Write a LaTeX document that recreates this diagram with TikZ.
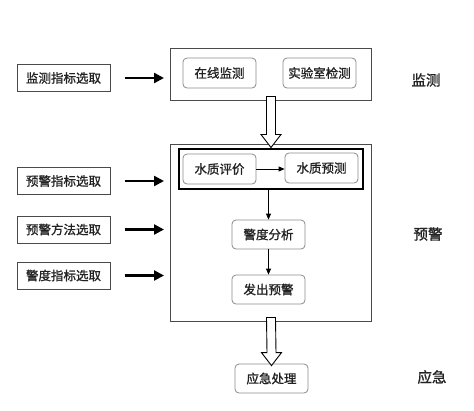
\documentclass[tikz,border=0pt]{standalone}
\usepackage{fontspec}
\usepackage{xcolor}
\usepackage{tikz}
\usetikzlibrary{arrows.meta,positioning,calc}
\newfontfamily\cjk[FakeBold=1.2]{Noto Sans CJK SC}
\definecolor{boxline}{HTML}{4A4A4A}
\definecolor{softline}{HTML}{8A8A8A}
\definecolor{inktext}{HTML}{222222}
% hollow down arrow from #1 (top) to #2 (tip)
\newcommand{\fatarrow}[2]{%
  \draw[line width=0.9pt, fill=white]
    ($(#1)+(-4.5,0)$) -- ($(#2)+(-4.5,-13)$) -- ($(#2)+(-10,-13)$) -- (#2)
    -- ($(#2)+(10,-13)$) -- ($(#2)+(4.5,-13)$) -- ($(#1)+(4.5,0)$) -- cycle;}

\begin{document}
\begin{tikzpicture}[x=1pt, y=-1pt, >=Stealth,
  every node/.style={font=\cjk\fontsize{12.5}{14}\selectfont, text=inktext, inner sep=0pt},
  pick/.style={draw=boxline, line width=1pt, minimum width=93, minimum height=27},
  stage/.style={draw=boxline, line width=1pt, minimum width=201},
  task/.style={draw=softline, line width=0.8pt, rounded corners=4pt, minimum width=73, minimum height=30},
  phase/.style={font=\cjk\fontsize{14.5}{16}\selectfont},
  feed/.style={line width=2.3pt, -{Triangle[length=10pt, width=10pt]}, shorten >=6pt},
  flow/.style={line width=0.8pt, -{Triangle[length=6pt, width=5pt]}}]
  \useasboundingbox (0,0) rectangle (474,410);

  % Monitoring stage
  \node[stage, minimum height=52] (mon) at (271,74) {};
  \node[task] (online) at (219.5,73) {在线监测};
  \node[task] (lab) at (319.5,73) {实验室检测};
  \node[pick] (monpick) at (63.5,78) {监测指标选取};
  \node[phase] (monlbl) at (426,80) {监测};

  % Warning stage
  \node[stage, minimum height=177] (warn) at (271,232.5) {};
  \node[draw=black, line width=2pt, minimum width=184, minimum height=40] (quality) at (271,169) {};
  \node[task] (assess) at (219.5,169) {水质评价};
  \node[task] (predict) at (321.5,168) {水质预测};
  \node[task, minimum height=29] (level) at (268.5,234.5) {警度分析};
  \node[task, minimum height=29] (issue) at (268.5,289.5) {发出预警};
  \node[pick] (warnpick) at (63.5,181) {预警指标选取};
  \node[pick] (methpick) at (63.5,229.5) {预警方法选取};
  \node[pick] (levpick) at (63.5,275.5) {警度指标选取};
  \node[phase] (warnlbl) at (428,234) {预警};

  % Emergency stage
  \node[task, minimum height=29] (respond) at (271.5,378.5) {应急处理};
  \node[phase] (emerlbl) at (432,377) {应急};

  % Inputs
  \draw[feed] ([xshift=14pt]monpick.east) -- (mon.west |- monpick);
  \foreach \p in {warnpick, methpick, levpick}
    \draw[feed] ([xshift=14pt]\p.east) -- (warn.west |- \p);

  % Flow inside warning stage
  \draw[flow] (assess.east) -- (predict.west |- assess.east);
  \draw[flow] (quality.south -| level) -- (level.north);
  \draw[flow] (level) -- (issue);

  % Between stages
  \coordinate (h1s) at ([yshift=4pt]mon.south);
  \coordinate (h1e) at ([yshift=-4pt]warn.north);
  \fatarrow{h1s}{h1e}
  \coordinate (h2s) at ([yshift=4pt]warn.south);
  \coordinate (h2e) at ([yshift=-2pt]respond.north);
  \fatarrow{h2s}{h2e}

\end{tikzpicture}
\end{document}
